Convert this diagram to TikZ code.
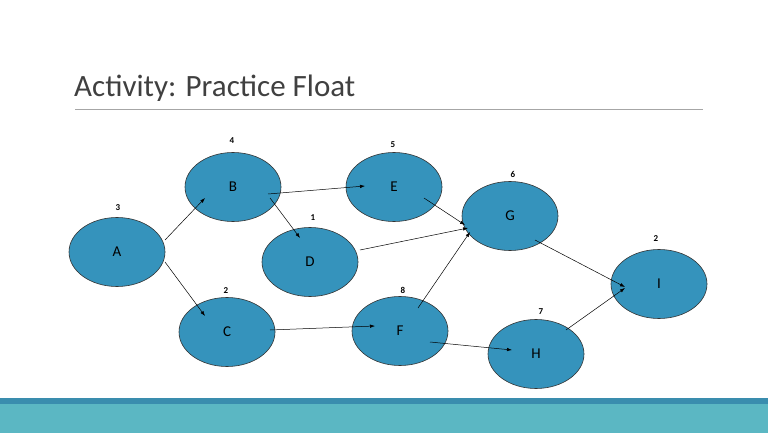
\documentclass[tikz,border=0pt]{standalone}
\usepackage{fontspec}
\setmainfont{Carlito}
\usetikzlibrary{arrows.meta}
\definecolor{nodefill}{HTML}{3593BC}
\definecolor{bandtop}{HTML}{3A8DAE}
\definecolor{bandlow}{HTML}{5BB7C3}
\begin{document}
\begin{tikzpicture}[x=1pt,y=-1pt,
  act/.style={ellipse,draw=black!80,line width=0.6pt,fill=nodefill,minimum width=96pt,minimum height=69pt,inner sep=0pt,font=\fontsize{15}{15}\selectfont},
  wt/.style={font=\fontsize{9}{9}\selectfont\bfseries},
  arr/.style={-{Latex[length=5pt,width=3.5pt]},line width=0.5pt}]
\useasboundingbox (0,0) rectangle (768,433);
\fill[white] (0,0) rectangle (768,433);
\fill[bandlow] (0,400) rectangle (768,433);
\fill[bandtop] (0,398) rectangle (768,404);
\node[anchor=base west,inner sep=0pt,font=\fontsize{31}{31}\selectfont,text=black!75] (title) at (74,97) {Activity: Practice Float};
\draw[gray!70,line width=0.6pt] (75,109) coordinate (l1) -- (703,109) coordinate (l2);
\usetikzlibrary{shapes.geometric}
\node[act] (A) at (117,252) {A};
\node[act] (B) at (233,187) {B};
\node[act] (C) at (227,332) {C};
\node[act] (D) at (310,262) {D};
\node[act] (E) at (394,187) {E};
\node[act] (F) at (400,331) {F};
\node[act] (G) at (510,216) {G};
\node[act] (H) at (536,354) {H};
\node[act] (I) at (659,284) {I};
\node[wt] (wA) at (118,208) {3};
\node[wt] (wB) at (232,141) {4};
\node[wt] (wD) at (313,218) {1};
\node[wt] (wE) at (393,145) {5};
\node[wt] (wG) at (513,174) {6};
\node[wt] (wC) at (226,291) {2};
\node[wt] (wF) at (403,290) {8};
\node[wt] (wH) at (541,312) {7};
\node[wt] (wI) at (656,239) {2};
\coordinate (a1) at (165,240); \coordinate (b1) at (205,198);
\coordinate (a2) at (165,262); \coordinate (c1) at (205,316);
\coordinate (b2) at (268,194); \coordinate (e1) at (365,186);
\coordinate (b3) at (270,198); \coordinate (d1) at (300,238);
\coordinate (e2) at (424,198); \coordinate (g1) at (465,225);
\coordinate (d2) at (360,250); \coordinate (g2) at (468,228);
\coordinate (f1) at (418,308); \coordinate (g3) at (470,232);
\coordinate (c2) at (270,330); \coordinate (f2) at (375,326);
\coordinate (f3) at (430,342); \coordinate (h1) at (512,350);
\coordinate (g4) at (535,240); \coordinate (i1) at (625,287);
\coordinate (h2) at (566,330); \coordinate (i2) at (625,288);
\draw[arr] (a1) -- (b1);
\draw[arr] (a2) -- (c1);
\draw[arr] (b2) -- (e1);
\draw[arr] (b3) -- (d1);
\draw[arr] (e2) -- (g1);
\draw[arr] (d2) -- (g2);
\draw[arr] (f1) -- (g3);
\draw[arr] (c2) -- (f2);
\draw[arr] (f3) -- (h1);
\draw[arr] (g4) -- (i1);
\draw[arr] (h2) -- (i2);
\end{tikzpicture}
\end{document}
